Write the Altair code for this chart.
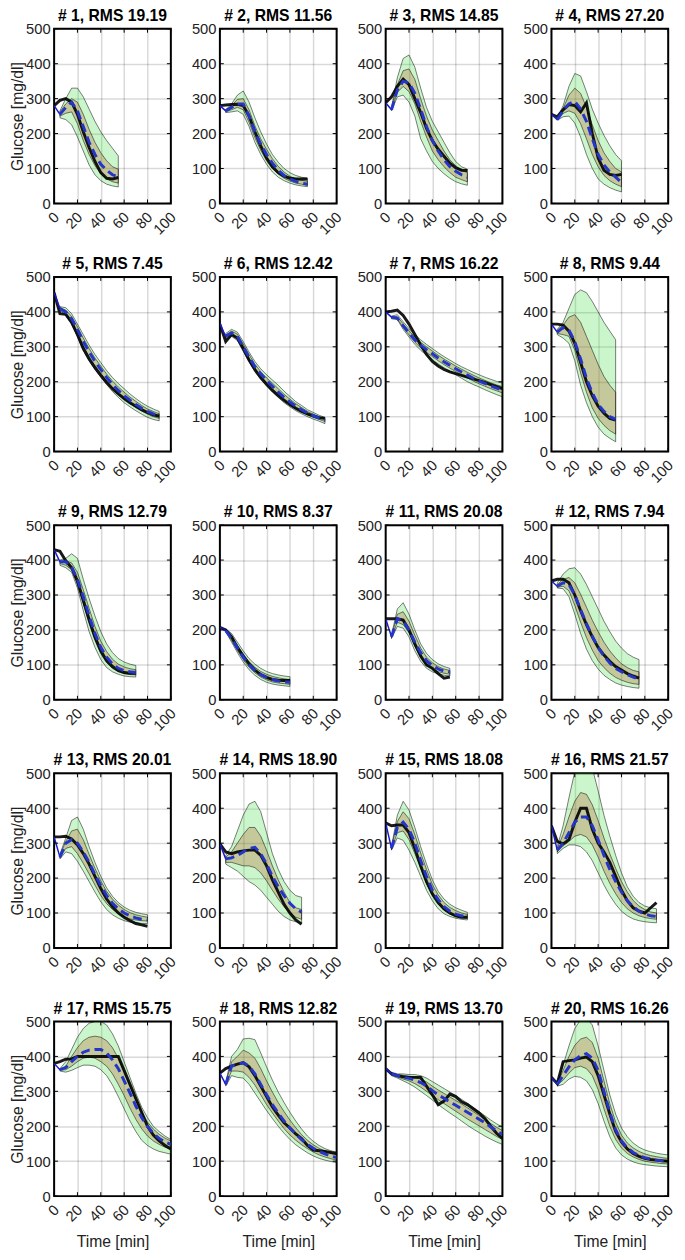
import altair as alt
import pandas as pd

FONT = "Liberation Sans"
W, H = 119, 178

RMS = ["19.19", "11.56", "14.85", "27.20", "7.45", "12.42", "16.22", "9.44", "12.79", "8.37",
       "20.08", "7.94", "20.01", "18.90", "18.08", "21.57", "15.75", "12.82", "13.70", "16.26"]

X_TICKS = [0, 20, 40, 60, 80, 100]
Y_TICKS = [0, 100, 200, 300, 400, 500]

# measured glucose, every 5 min from t=0
MEAS = [
    [280, 295, 300, 290, 255, 205, 160, 120, 88, 72, 70, 74],
    [280, 282, 283, 284, 280, 250, 205, 165, 130, 105, 88, 78, 72, 70, 70, 70],
    [288, 305, 335, 356, 340, 300, 260, 215, 180, 155, 135, 115, 102, 95, 94],
    [255, 248, 268, 283, 280, 262, 288, 200, 130, 95, 83, 80, 83],
    [455, 395, 393, 370, 335, 295, 265, 240, 218, 198, 180, 165, 152, 140, 130, 120, 112, 105, 102],
    [365, 315, 335, 325, 295, 262, 235, 212, 193, 175, 160, 147, 135, 124, 115, 108, 102, 97, 95],
    [400, 402, 405, 390, 365, 335, 305, 278, 258, 245, 235, 228, 223, 218, 213, 208, 203, 198, 192, 186, 180],
    [365, 365, 362, 345, 310, 255, 200, 160, 130, 110, 95, 90],
    [430, 425, 398, 378, 340, 285, 230, 180, 140, 112, 95, 84, 78, 76, 76],
    [207, 200, 180, 150, 125, 103, 85, 72, 64, 58, 56, 55, 55],
    [232, 232, 232, 228, 200, 160, 125, 100, 90, 75, 62, 65],
    [340, 345, 345, 335, 300, 255, 215, 180, 150, 128, 110, 95, 85, 75, 68, 62],
    [318, 318, 320, 312, 295, 270, 240, 205, 170, 140, 118, 100, 88, 78, 70, 66, 62],
    [298, 275, 270, 275, 278, 280, 280, 265, 235, 195, 160, 125, 100, 80, 68],
    [358, 350, 352, 352, 330, 285, 235, 190, 155, 130, 112, 100, 92, 88, 88],
    [350, 305, 298, 310, 360, 400, 400, 340, 300, 275, 245, 205, 165, 135, 115, 105, 100, 115, 130],
    [380, 385, 392, 393, 400, 400, 400, 400, 400, 400, 400, 400, 360, 320, 280, 240, 200, 175, 158, 145, 135],
    [352, 365, 372, 378, 382, 370, 345, 315, 285, 255, 232, 210, 195, 178, 165, 145, 132, 130, 128, 125, 122],
    [365, 350, 345, 342, 340, 340, 340, 315, 290, 262, 272, 292, 285, 270, 262, 250, 238, 222, 200, 180, 165],
    [340, 322, 385, 388, 390, 395, 398, 385, 345, 290, 235, 185, 155, 135, 122, 114, 108, 105, 103, 101, 100],
]

# predicted mean, every 5 min from t=0
PRED = [
    [280, 255, 275, 290, 265, 220, 175, 140, 112, 95, 82, 76],
    [280, 265, 275, 285, 285, 250, 205, 170, 140, 115, 95, 80, 70, 63, 58, 55],
    [288, 268, 325, 350, 345, 315, 270, 220, 180, 150, 125, 105, 92, 82, 75],
    [255, 240, 265, 285, 292, 270, 235, 185, 140, 110, 90, 75, 60],
    [455, 410, 400, 380, 350, 315, 285, 258, 235, 212, 192, 175, 160, 147, 135, 124, 115, 108, 102],
    [365, 330, 340, 330, 300, 270, 243, 222, 203, 187, 170, 155, 142, 130, 120, 110, 103, 96, 90],
    [400, 385, 382, 360, 340, 320, 305, 292, 280, 268, 257, 247, 237, 228, 219, 210, 202, 195, 188, 182, 176],
    [365, 342, 355, 348, 315, 265, 210, 168, 135, 115, 100, 92],
    [430, 395, 395, 380, 345, 295, 240, 190, 150, 122, 103, 90, 83, 80, 78],
    [207, 198, 175, 148, 122, 100, 84, 72, 64, 58, 54, 51, 50],
    [232, 180, 232, 225, 200, 165, 135, 112, 98, 88, 82, 80],
    [340, 325, 335, 330, 300, 258, 218, 182, 150, 125, 105, 90, 80, 72, 65, 58],
    [318, 260, 300, 310, 300, 275, 245, 210, 178, 150, 128, 112, 100, 92, 86, 82, 80],
    [298, 255, 258, 265, 275, 285, 288, 270, 240, 205, 175, 150, 128, 112, 102],
    [358, 285, 345, 360, 340, 300, 250, 205, 165, 138, 118, 105, 97, 92, 90],
    [350, 280, 300, 330, 360, 375, 375, 350, 310, 265, 225, 190, 160, 135, 118, 105, 97, 92, 90],
    [380, 362, 368, 385, 400, 412, 418, 420, 420, 410, 390, 365, 330, 295, 258, 225, 200, 180, 165, 155, 148],
    [352, 320, 372, 378, 382, 372, 350, 320, 290, 262, 238, 215, 195, 178, 162, 148, 137, 128, 121, 115, 110],
    [365, 350, 345, 340, 337, 332, 325, 315, 302, 290, 280, 270, 260, 250, 240, 230, 220, 210, 198, 187, 177],
    [340, 320, 345, 370, 390, 402, 408, 395, 360, 300, 240, 190, 158, 138, 125, 116, 110, 106, 103, 101, 100],
]

# inner band, every 5 min from t=5
IN_LO = [
    [250, 258, 262, 228, 180, 140, 108, 85, 70, 62, 58],
    [262, 268, 275, 268, 232, 188, 152, 122, 100, 84, 72, 64, 58, 55, 52],
    [268, 318, 335, 320, 285, 235, 190, 150, 125, 105, 88, 75, 68, 62],
    [239, 258, 265, 258, 228, 185, 140, 105, 80, 65, 55, 48],
    [408, 395, 373, 340, 302, 272, 246, 224, 202, 182, 165, 150, 138, 126, 116, 107, 100, 95],
    [326, 335, 324, 293, 263, 236, 215, 196, 179, 162, 147, 134, 123, 114, 105, 98, 92, 86],
    [383, 380, 355, 334, 313, 297, 284, 272, 260, 249, 239, 229, 220, 211, 202, 194, 187, 180, 174, 168],
    [338, 335, 330, 290, 225, 170, 125, 95, 75, 60, 50],
    [390, 385, 372, 330, 275, 218, 170, 132, 106, 90, 80, 75, 72, 71],
    [196, 170, 141, 115, 93, 77, 65, 57, 51, 48, 46, 44],
    [178, 222, 215, 192, 153, 122, 100, 88, 80, 76, 73],
    [322, 325, 312, 270, 222, 178, 142, 112, 92, 76, 64, 56, 50, 46, 44],
    [258, 285, 290, 270, 242, 212, 180, 150, 127, 110, 98, 89, 83, 80, 78, 77],
    [245, 245, 240, 235, 235, 230, 215, 192, 165, 140, 118, 100, 88, 82],
    [282, 330, 335, 310, 270, 228, 185, 150, 125, 108, 97, 91, 87, 85],
    [275, 292, 305, 320, 325, 318, 295, 260, 220, 185, 155, 130, 112, 100, 92, 87, 84, 82],
    [360, 362, 372, 385, 395, 398, 395, 385, 372, 350, 320, 288, 252, 220, 193, 172, 158, 148, 140, 135],
    [318, 358, 358, 355, 340, 318, 290, 262, 238, 215, 193, 175, 160, 147, 136, 126, 118, 112, 107, 103],
    [347, 341, 335, 330, 322, 312, 300, 288, 276, 265, 254, 243, 232, 221, 211, 201, 191, 181, 171, 162],
    [318, 332, 352, 368, 372, 365, 345, 305, 250, 200, 162, 138, 122, 112, 105, 100, 97, 95, 93, 92],
]
IN_HI = [
    [262, 285, 300, 290, 255, 212, 175, 145, 122, 105, 98],
    [266, 280, 298, 300, 268, 222, 185, 155, 128, 106, 90, 78, 70, 66, 63],
    [272, 340, 380, 385, 355, 300, 250, 210, 180, 150, 125, 108, 95, 88],
    [242, 272, 310, 330, 315, 275, 225, 180, 145, 120, 100, 90],
    [412, 405, 387, 357, 325, 295, 268, 245, 222, 202, 185, 170, 156, 144, 132, 122, 115, 108],
    [334, 345, 336, 308, 278, 250, 229, 211, 196, 180, 164, 150, 137, 126, 115, 107, 100, 94],
    [386, 386, 366, 346, 328, 313, 300, 288, 276, 265, 255, 245, 236, 227, 219, 211, 204, 197, 191, 186],
    [348, 362, 385, 392, 370, 330, 290, 250, 215, 190, 170],
    [397, 398, 392, 365, 315, 262, 210, 168, 138, 116, 102, 94, 89, 86],
    [200, 182, 156, 131, 109, 93, 81, 73, 67, 63, 60, 58],
    [182, 245, 252, 225, 185, 148, 122, 106, 95, 88, 84],
    [330, 345, 350, 335, 302, 265, 228, 195, 165, 140, 120, 103, 92, 84, 80],
    [265, 305, 335, 340, 310, 268, 228, 192, 162, 140, 123, 110, 101, 95, 91, 88],
    [260, 275, 300, 325, 345, 345, 320, 280, 235, 195, 160, 130, 115, 110],
    [288, 362, 390, 370, 325, 272, 225, 182, 152, 130, 116, 107, 100, 96],
    [285, 325, 375, 420, 445, 440, 410, 365, 315, 270, 228, 190, 160, 136, 120, 110, 103, 100],
    [363, 372, 400, 425, 445, 455, 458, 455, 445, 425, 395, 355, 315, 275, 240, 212, 192, 177, 166, 158],
    [322, 385, 400, 418, 410, 395, 365, 330, 298, 268, 242, 218, 196, 176, 160, 147, 137, 129, 123, 118],
    [353, 348, 346, 343, 340, 335, 327, 315, 304, 294, 284, 274, 264, 253, 242, 231, 220, 208, 197, 188],
    [322, 360, 400, 432, 450, 455, 440, 395, 330, 265, 212, 175, 152, 138, 128, 121, 116, 113, 110, 108],
]

# outer band, every 5 min from t=5
OUT_LO = [
    [245, 240, 225, 190, 150, 110, 82, 65, 55, 50, 47],
    [260, 262, 265, 255, 220, 175, 140, 112, 90, 75, 65, 58, 53, 50, 48],
    [265, 305, 310, 290, 250, 185, 150, 120, 100, 85, 72, 62, 56, 52],
    [238, 248, 250, 230, 190, 140, 100, 70, 55, 45, 38, 33],
    [405, 390, 365, 330, 290, 260, 235, 213, 192, 172, 155, 140, 128, 117, 107, 98, 92, 88],
    [322, 330, 318, 287, 257, 228, 207, 188, 171, 155, 140, 128, 117, 108, 100, 93, 87, 80],
    [380, 378, 350, 328, 307, 290, 276, 263, 251, 240, 230, 220, 210, 200, 192, 185, 177, 170, 163, 157],
    [335, 325, 310, 260, 190, 140, 100, 70, 50, 38, 28],
    [385, 378, 365, 320, 255, 195, 150, 115, 92, 80, 73, 68, 66, 65],
    [195, 165, 135, 108, 86, 70, 58, 50, 45, 42, 40, 38],
    [175, 210, 205, 180, 140, 110, 90, 80, 74, 70, 68],
    [320, 318, 295, 245, 190, 145, 112, 88, 70, 58, 48, 42, 38, 35, 33],
    [255, 275, 270, 248, 220, 190, 160, 132, 110, 95, 85, 78, 74, 72, 70, 70],
    [240, 230, 220, 205, 190, 180, 165, 145, 125, 105, 90, 80, 75, 72],
    [280, 315, 308, 280, 245, 205, 165, 135, 112, 98, 90, 85, 82, 80],
    [270, 285, 295, 295, 290, 275, 250, 215, 180, 150, 125, 105, 92, 83, 78, 75, 73, 72],
    [358, 355, 360, 368, 375, 375, 372, 362, 345, 318, 285, 250, 215, 185, 160, 145, 135, 128, 124, 120],
    [315, 345, 340, 338, 320, 295, 270, 245, 222, 200, 180, 162, 147, 135, 124, 115, 108, 103, 99, 96],
    [345, 338, 330, 322, 312, 300, 288, 275, 262, 250, 238, 227, 215, 203, 192, 182, 172, 163, 155, 148],
    [315, 320, 335, 343, 340, 330, 305, 265, 215, 170, 138, 118, 106, 98, 93, 90, 88, 86, 85, 84],
]
OUT_HI = [
    [265, 300, 330, 330, 305, 270, 235, 205, 180, 158, 136],
    [268, 285, 310, 322, 290, 245, 205, 170, 140, 118, 100, 88, 80, 75, 72],
    [275, 360, 415, 425, 390, 330, 275, 235, 205, 175, 145, 120, 105, 98],
    [244, 280, 335, 372, 365, 320, 270, 230, 195, 165, 140, 122],
    [415, 412, 395, 365, 335, 305, 278, 255, 232, 212, 195, 180, 165, 152, 140, 130, 122, 115],
    [338, 350, 342, 315, 285, 258, 237, 220, 205, 190, 173, 158, 143, 132, 120, 112, 104, 98],
    [388, 392, 372, 352, 335, 320, 307, 295, 283, 272, 262, 252, 243, 235, 227, 220, 213, 207, 201, 196],
    [350, 370, 410, 450, 463, 455, 430, 400, 370, 345, 320],
    [400, 405, 418, 405, 345, 290, 240, 195, 160, 135, 118, 108, 102, 98],
    [203, 190, 165, 140, 118, 102, 90, 81, 75, 71, 68, 66],
    [185, 260, 278, 245, 200, 160, 133, 115, 103, 95, 90],
    [335, 360, 375, 378, 360, 330, 295, 260, 225, 195, 168, 148, 132, 122, 115],
    [268, 315, 365, 375, 340, 290, 245, 205, 172, 148, 130, 117, 108, 102, 98, 95],
    [265, 290, 335, 380, 412, 420, 390, 330, 270, 225, 190, 165, 150, 145],
    [290, 380, 420, 395, 345, 290, 240, 195, 162, 140, 125, 115, 108, 102],
    [290, 350, 430, 505, 540, 540, 515, 450, 380, 320, 265, 215, 175, 148, 130, 120, 115, 112],
    [365, 385, 420, 455, 480, 495, 500, 500, 490, 465, 430, 385, 340, 295, 255, 225, 200, 185, 172, 162],
    [325, 400, 420, 450, 452, 448, 410, 370, 332, 298, 268, 240, 215, 192, 172, 157, 145, 136, 130, 126],
    [355, 350, 350, 348, 348, 345, 338, 328, 318, 308, 298, 288, 277, 266, 254, 242, 230, 218, 207, 198],
    [325, 375, 430, 480, 505, 510, 490, 430, 360, 290, 235, 195, 170, 152, 140, 132, 127, 123, 120, 118],
]

x_scale = alt.Scale(domain=[0, 100], nice=False, zero=False)
y_scale = alt.Scale(domain=[0, 500], nice=False, zero=False)


def x_axis(title):
    return alt.Axis(values=X_TICKS, labelAngle=315, labelAlign="right", labelBaseline="middle",
                    labelPadding=11, labelOffset=2, labelFlush=False, labelOverlap=False,
                    grid=True, gridColor="black", gridOpacity=0.15, gridWidth=1.5,
                    ticks=False, domain=False, labelFont=FONT, labelFontSize=15, labelColor="#222",
                    title=title, titleFont=FONT, titleFontSize=16, titleFontWeight="normal",
                    titleColor="#222", titlePadding=4)


def y_axis(title):
    return alt.Axis(values=Y_TICKS, labelPadding=4, labelFlush=False, labelOverlap=False,
                    grid=True, gridColor="black", gridOpacity=0.15, gridWidth=1.5,
                    ticks=False, domain=False, labelFont=FONT, labelFontSize=15, labelColor="#222",
                    title=title, titleFont=FONT, titleFontSize=16, titleFontWeight="normal",
                    titleColor="#222", titlePadding=0)


def panel(i):
    n = len(MEAS[i])
    t = [5 * k for k in range(n)]
    meas_df = pd.DataFrame({"t": t, "g": MEAS[i]})
    band_df = pd.DataFrame({"t": t[1:], "out_lo": OUT_LO[i], "out_hi": OUT_HI[i],
                            "in_lo": IN_LO[i], "in_hi": IN_HI[i], "pred": PRED[i][1:]})
    start_df = pd.DataFrame({"t": t[:2], "pred": PRED[i][:2]})
    title_df = pd.DataFrame({"label": [f"# {i + 1}, RMS {RMS[i]}"]})
    row, col = divmod(i, 4)
    xt = "Time [min]" if row == 4 else None
    yt = "Glucose [mg/dl]" if col == 0 else None

    def X(f):
        return alt.X(f, type="quantitative", scale=x_scale, axis=x_axis(xt))

    def Y(f):
        return alt.Y(f, type="quantitative", scale=y_scale, axis=y_axis(yt))

    outer = alt.Chart(band_df).mark_area(
        fill="#2fdc2f", fillOpacity=0.25, stroke="black", strokeWidth=0.6, strokeOpacity=0.85, clip=True
    ).encode(x=X("t"), y=Y("out_lo"), y2="out_hi")
    inner = alt.Chart(band_df).mark_area(
        fill="#b75d2b", fillOpacity=0.3, stroke="black", strokeWidth=0.6, strokeOpacity=0.85, clip=True
    ).encode(x=X("t"), y=Y("in_lo"), y2="in_hi")
    meas = alt.Chart(meas_df).mark_line(color="black", strokeWidth=3, opacity=0.9, clip=True).encode(
        x=X("t"), y=Y("g"))
    start = alt.Chart(start_df).mark_line(color="#1a1acc", strokeWidth=1.5, clip=True).encode(
        x=X("t"), y=Y("pred"))
    pred = alt.Chart(band_df).mark_line(color="#2336c8", strokeWidth=3, strokeDash=[9, 5], clip=True).encode(
        x=X("t"), y=Y("pred"))

    xt_df = pd.DataFrame({"v": X_TICKS})
    yt_df = pd.DataFrame({"v": Y_TICKS})
    tick = dict(color="black", strokeWidth=1)
    t_bot = alt.Chart(xt_df).mark_rule(**tick).encode(x=X("v"), y=alt.value(H), y2=alt.value(H - 4))
    t_top = alt.Chart(xt_df).mark_rule(**tick).encode(x=X("v"), y=alt.value(0), y2=alt.value(4))
    t_lft = alt.Chart(yt_df).mark_rule(**tick).encode(y=Y("v"), x=alt.value(0), x2=alt.value(4))
    t_rgt = alt.Chart(yt_df).mark_rule(**tick).encode(y=Y("v"), x=alt.value(W), x2=alt.value(W - 4))

    title = alt.Chart(title_df).mark_text(
        font=FONT, fontSize=16, fontWeight="bold", color="black", align="center", baseline="alphabetic"
    ).encode(text="label:N", x=alt.value(W / 2), y=alt.value(-8))

    return alt.layer(outer, inner, meas, start, pred, t_bot, t_top, t_lft, t_rgt, title).properties(
        width=W, height=H)


rows = [alt.hconcat(*[panel(r * 4 + c) for c in range(4)], spacing=10) for r in range(5)]

chart = alt.vconcat(*rows, spacing=17).properties(
    padding={"left": 0, "top": -13, "right": 0, "bottom": 0}
).configure_view(stroke="black", strokeWidth=2)

chart.save("out.html", embed_options={"renderer": "svg", "actions": False})
